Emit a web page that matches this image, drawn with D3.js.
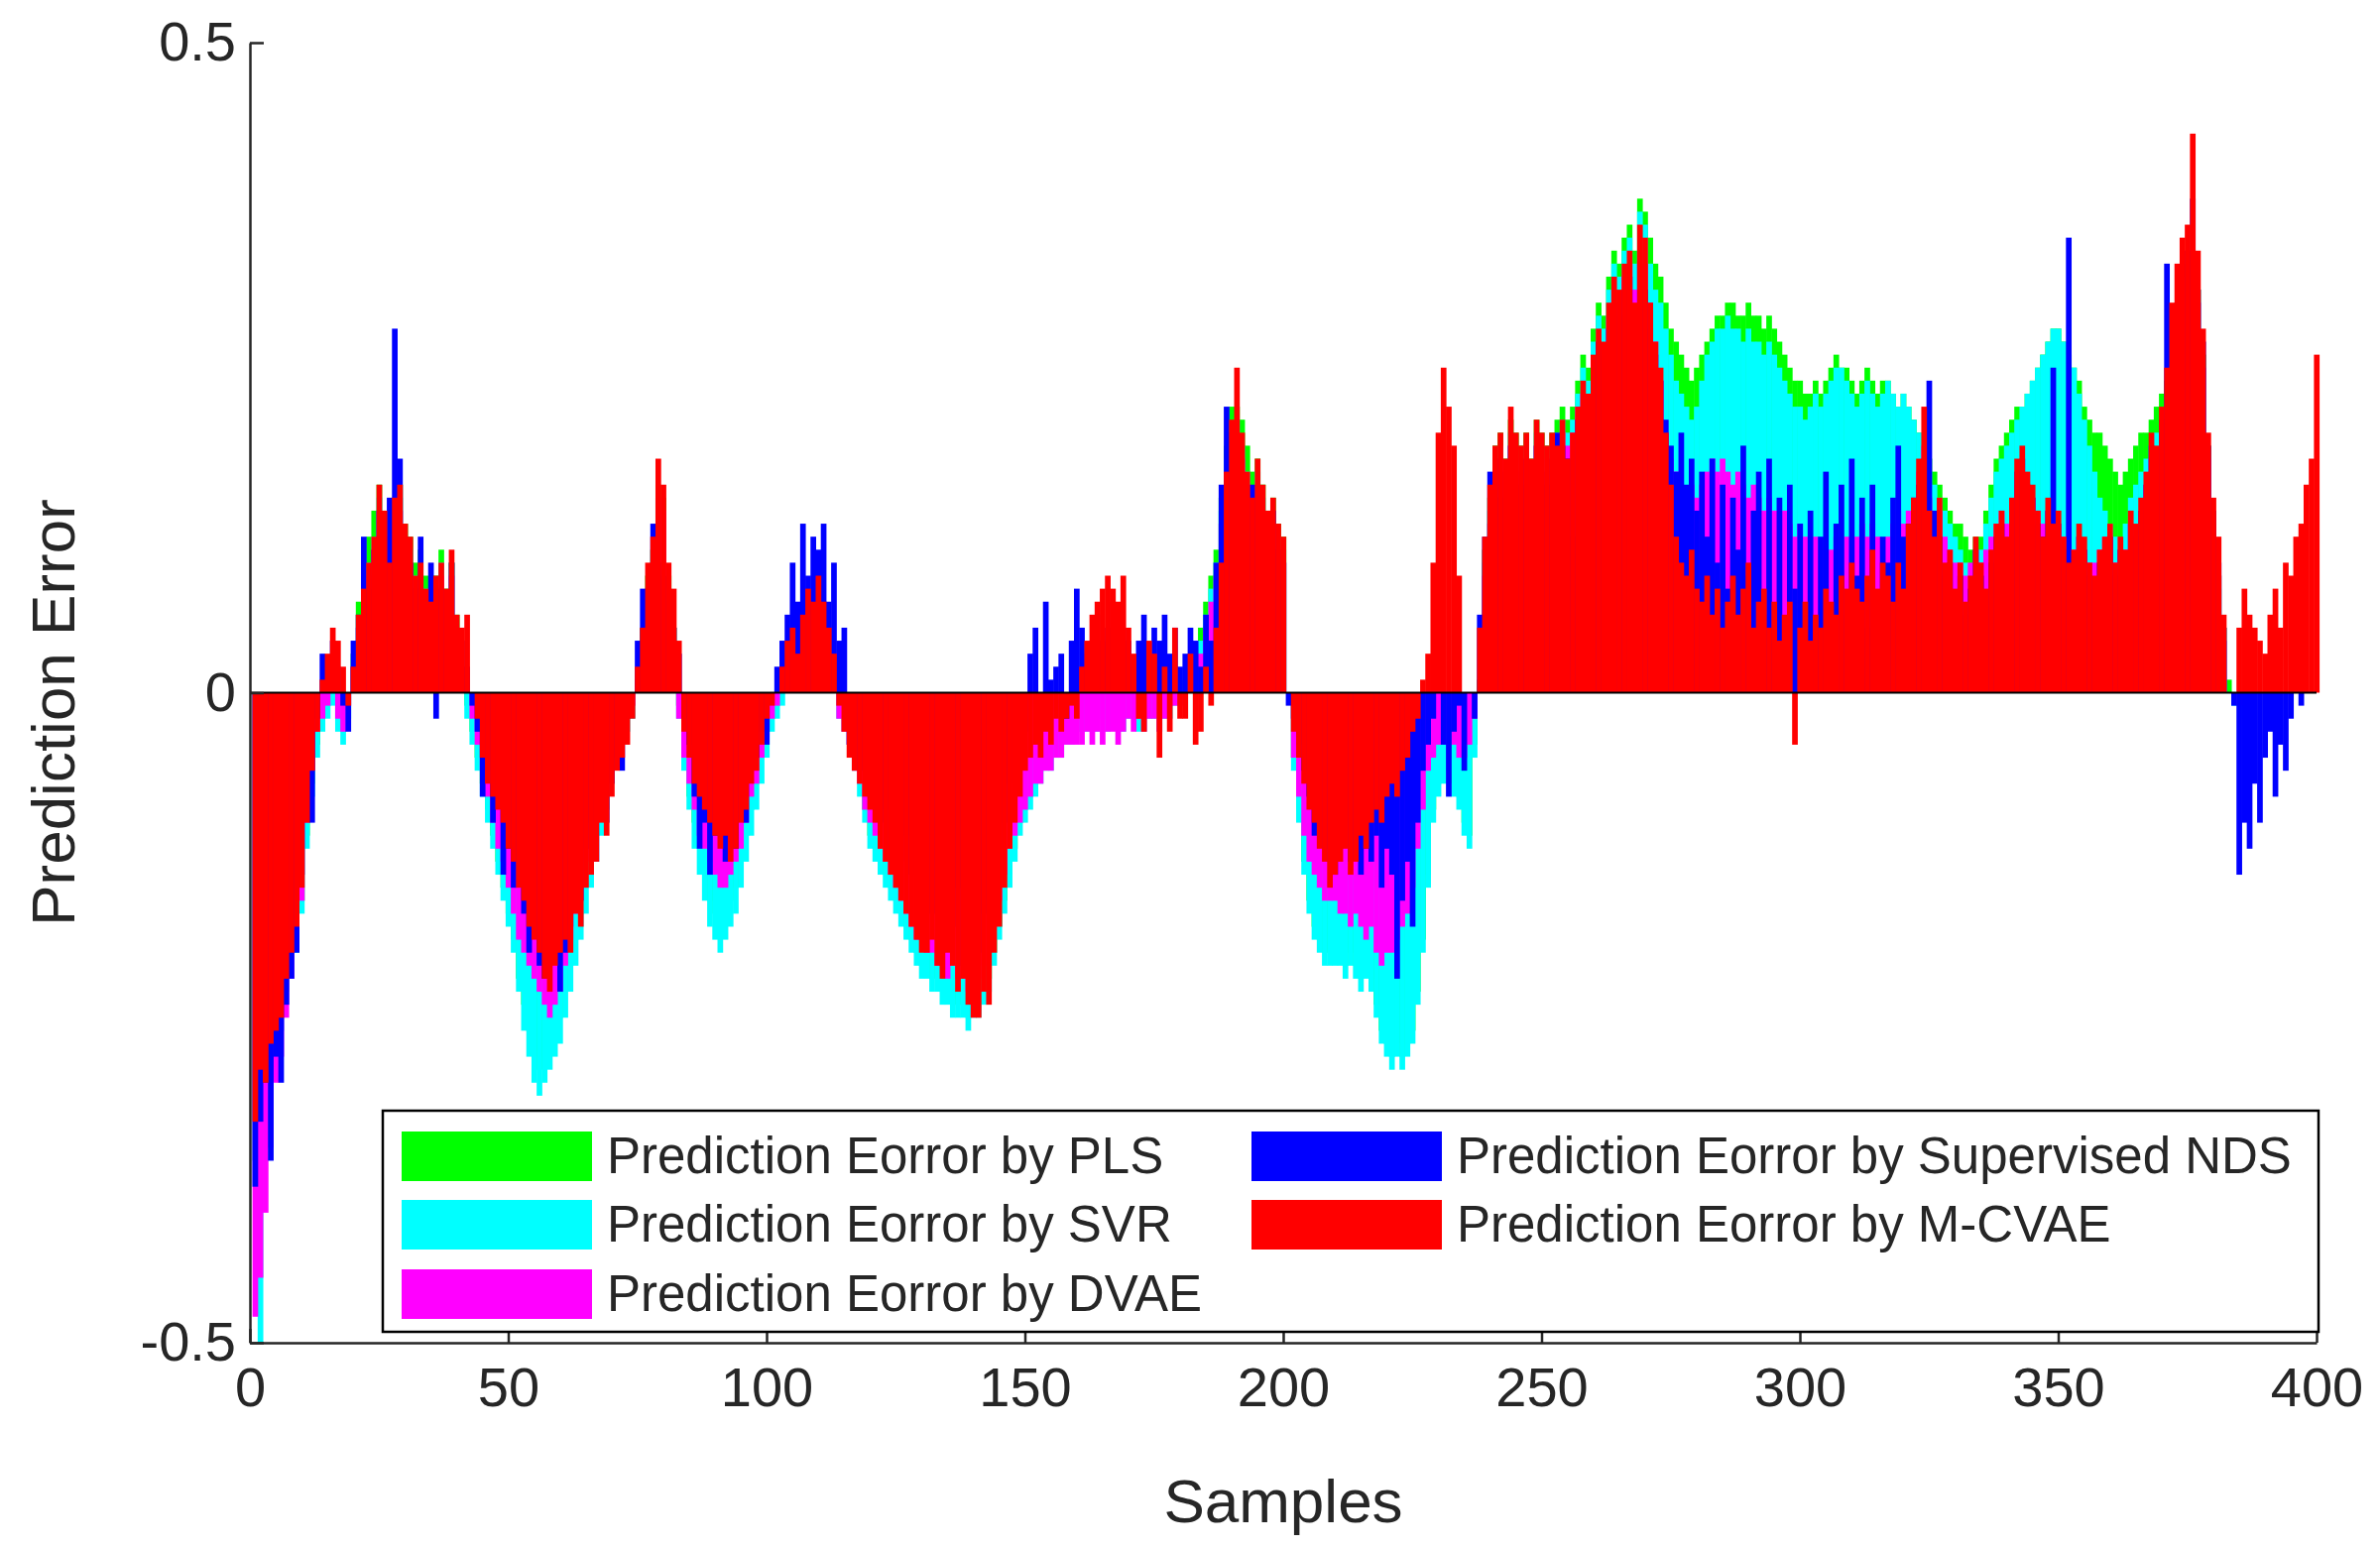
<!DOCTYPE html>
<html><head><meta charset="utf-8">
<script src="https://cdn.jsdelivr.net/npm/d3@7"></script>
<style>body{margin:0;background:#fff}text{font-family:"Liberation Sans",Arial,sans-serif;fill:#262626}</style>
</head><body>
<svg id="c" width="2400" height="1562"></svg>
<script>
const seriesNames=["Prediction Eorror by PLS","Prediction Eorror by SVR","Prediction Eorror by DVAE","Prediction Eorror by Supervised NDS","Prediction Eorror by M-CVAE"];
const seriesColors=["#00ff00","#00ffff","#ff00ff","#0000ff","#ff0000"];
const xTicks=[0,50,100,150,200,250,300,350,400];
const yTicks=[-0.5,0,0.5];
const yTickLabels=["-0.5","0","0.5"];
const pls=[-0.36,-0.34,-0.32,-0.29,-0.27,-0.25,-0.23,-0.21,-0.19,-0.16,-0.11,-0.07,-0.04,-0.02,-0.01,0.0,-0.02,-0.03,0.0,0.03,
0.07,0.09,0.12,0.14,0.16,0.14,0.12,0.15,0.16,0.13,0.12,0.1,0.11,0.09,0.08,0.09,0.11,0.08,0.1,0.06,
0.0,-0.01,-0.03,-0.05,-0.07,-0.09,-0.11,-0.13,-0.15,-0.17,-0.19,-0.22,-0.24,-0.26,-0.28,-0.29,-0.28,-0.27,-0.26,-0.25,
-0.23,-0.21,-0.19,-0.17,-0.15,-0.13,-0.11,-0.09,-0.07,-0.05,-0.04,-0.03,-0.02,-0.01,0.01,0.05,0.09,0.11,0.16,0.15,
0.09,0.05,-0.01,-0.05,-0.08,-0.1,-0.12,-0.14,-0.16,-0.17,-0.18,-0.17,-0.16,-0.15,-0.13,-0.11,-0.09,-0.07,-0.05,-0.03,
-0.02,-0.01,0.0,0.03,0.05,0.03,0.06,0.08,0.07,0.09,0.07,0.04,0.01,-0.01,-0.02,-0.03,-0.05,-0.07,-0.09,-0.11,
-0.12,-0.13,-0.14,-0.15,-0.16,-0.17,-0.18,-0.19,-0.2,-0.21,-0.21,-0.22,-0.22,-0.23,-0.23,-0.24,-0.24,-0.24,-0.25,-0.24,
-0.24,-0.23,-0.22,-0.2,-0.18,-0.16,-0.14,-0.12,-0.1,-0.09,-0.08,-0.07,-0.06,-0.05,-0.05,-0.04,-0.04,-0.03,-0.03,-0.02,
-0.02,-0.02,-0.01,-0.02,-0.01,-0.02,-0.01,-0.01,-0.02,-0.01,-0.01,-0.02,-0.02,-0.01,-0.01,-0.02,-0.01,-0.01,0.0,0.0,
0.01,0.01,0.03,0.05,0.07,0.09,0.11,0.15,0.19,0.22,0.22,0.21,0.19,0.17,0.18,0.16,0.14,0.15,0.13,0.12,
0.0,-0.05,-0.09,-0.13,-0.16,-0.18,-0.19,-0.2,-0.2,-0.2,-0.2,-0.21,-0.2,-0.21,-0.22,-0.21,-0.22,-0.24,-0.26,-0.27,
-0.28,-0.27,-0.28,-0.27,-0.26,-0.23,-0.19,-0.14,-0.09,-0.07,-0.06,-0.05,-0.07,-0.08,-0.1,-0.11,-0.04,0.01,0.11,0.15,
0.19,0.2,0.18,0.21,0.2,0.19,0.2,0.18,0.21,0.2,0.19,0.2,0.21,0.22,0.21,0.22,0.24,0.26,0.25,0.28,
0.3,0.29,0.32,0.34,0.33,0.35,0.36,0.34,0.38,0.37,0.35,0.33,0.32,0.3,0.28,0.27,0.26,0.25,0.24,0.25,
0.26,0.27,0.28,0.29,0.29,0.3,0.3,0.29,0.29,0.3,0.29,0.29,0.28,0.29,0.28,0.27,0.26,0.25,0.24,0.24,
0.23,0.23,0.24,0.23,0.24,0.25,0.26,0.25,0.25,0.24,0.23,0.24,0.25,0.24,0.23,0.24,0.24,0.23,0.22,0.23,
0.22,0.21,0.2,0.19,0.18,0.17,0.16,0.15,0.14,0.13,0.13,0.12,0.11,0.12,0.12,0.14,0.16,0.18,0.19,0.2,
0.21,0.22,0.22,0.23,0.24,0.25,0.26,0.27,0.28,0.28,0.27,0.26,0.25,0.24,0.22,0.21,0.2,0.2,0.19,0.18,
0.17,0.16,0.17,0.18,0.19,0.2,0.2,0.21,0.22,0.23,0.24,0.26,0.28,0.31,0.33,0.34,0.31,0.26,0.19,0.13,
0.09,0.05,0.01,0,0,0,0,0,0,0,0,0,0,0,0,0,0,0,0,0];
const svr=[-0.38,-0.5,-0.33,-0.3,-0.28,-0.26,-0.24,-0.22,-0.2,-0.17,-0.12,-0.08,-0.05,-0.03,-0.02,-0.01,-0.03,-0.04,-0.02,0.02,
0.05,0.07,0.1,0.12,0.15,0.13,0.1,0.14,0.15,0.12,0.11,0.09,0.1,0.08,0.07,0.08,0.1,0.07,0.1,0.05,
0.02,-0.02,-0.04,-0.06,-0.08,-0.1,-0.12,-0.14,-0.16,-0.18,-0.2,-0.23,-0.26,-0.28,-0.3,-0.31,-0.3,-0.29,-0.28,-0.27,
-0.25,-0.23,-0.21,-0.19,-0.17,-0.15,-0.13,-0.11,-0.09,-0.07,-0.05,-0.04,-0.03,-0.02,0.0,0.04,0.08,0.1,0.15,0.14,
0.08,0.04,-0.02,-0.06,-0.09,-0.12,-0.14,-0.16,-0.18,-0.19,-0.2,-0.19,-0.18,-0.17,-0.15,-0.13,-0.11,-0.09,-0.07,-0.05,
-0.03,-0.02,-0.01,0.02,0.04,0.02,0.05,0.07,0.06,0.08,0.06,0.03,0.0,-0.02,-0.03,-0.04,-0.06,-0.08,-0.1,-0.12,
-0.13,-0.14,-0.15,-0.16,-0.17,-0.18,-0.19,-0.2,-0.21,-0.22,-0.22,-0.23,-0.23,-0.24,-0.24,-0.25,-0.25,-0.25,-0.26,-0.25,
-0.25,-0.24,-0.23,-0.21,-0.19,-0.17,-0.15,-0.13,-0.11,-0.1,-0.09,-0.08,-0.07,-0.06,-0.06,-0.05,-0.05,-0.04,-0.04,-0.03,
-0.03,-0.03,-0.02,-0.03,-0.02,-0.03,-0.02,-0.02,-0.03,-0.02,-0.02,-0.03,-0.03,-0.02,-0.02,-0.03,-0.02,-0.02,-0.01,-0.01,
0.0,0.0,0.02,0.04,0.06,0.08,0.1,0.14,0.18,0.2,0.21,0.19,0.17,0.15,0.17,0.15,0.13,0.14,0.12,0.11,
0.0,-0.06,-0.1,-0.14,-0.17,-0.19,-0.2,-0.21,-0.21,-0.21,-0.21,-0.22,-0.21,-0.22,-0.23,-0.22,-0.23,-0.25,-0.27,-0.28,
-0.29,-0.28,-0.29,-0.28,-0.27,-0.24,-0.2,-0.15,-0.1,-0.08,-0.07,-0.06,-0.08,-0.09,-0.11,-0.12,-0.05,0.0,0.1,0.14,
0.18,0.19,0.17,0.2,0.19,0.18,0.19,0.17,0.2,0.19,0.18,0.19,0.2,0.21,0.2,0.21,0.23,0.25,0.24,0.27,
0.29,0.28,0.31,0.33,0.32,0.34,0.35,0.33,0.37,0.36,0.33,0.31,0.3,0.28,0.26,0.24,0.23,0.22,0.21,0.22,
0.24,0.26,0.27,0.28,0.28,0.29,0.28,0.28,0.27,0.28,0.27,0.27,0.26,0.27,0.26,0.25,0.24,0.23,0.22,0.22,
0.21,0.22,0.23,0.22,0.23,0.24,0.25,0.25,0.24,0.23,0.22,0.23,0.24,0.23,0.22,0.23,0.24,0.23,0.22,0.23,
0.22,0.21,0.2,0.19,0.17,0.16,0.15,0.14,0.13,0.12,0.11,0.1,0.09,0.1,0.11,0.13,0.15,0.17,0.18,0.19,
0.2,0.21,0.22,0.23,0.24,0.25,0.26,0.27,0.28,0.28,0.27,0.26,0.25,0.23,0.21,0.19,0.17,0.15,0.14,0.13,
0.12,0.11,0.13,0.15,0.16,0.17,0.18,0.19,0.2,0.21,0.22,0.25,0.27,0.3,0.32,0.33,0.3,0.25,0.18,0.12,
0.08,0.04,0.0,-0.01,-0.01,-0.02,-0.01,0,0,0,0,0,0,0,0,0,0,0,0,0];
const dvae=[-0.48,-0.45,-0.4,-0.35,-0.3,-0.28,-0.25,-0.22,-0.19,-0.16,-0.1,-0.06,-0.03,-0.02,-0.01,0.0,-0.02,-0.03,-0.01,0.02,
0.05,0.07,0.09,0.11,0.14,0.12,0.09,0.13,0.14,0.11,0.1,0.08,0.09,0.07,0.06,0.07,0.09,0.06,0.09,0.05,
0.02,0.0,-0.02,-0.04,-0.06,-0.08,-0.1,-0.12,-0.13,-0.15,-0.17,-0.19,-0.2,-0.21,-0.22,-0.23,-0.24,-0.25,-0.24,-0.23,
-0.21,-0.19,-0.17,-0.15,-0.13,-0.12,-0.1,-0.09,-0.07,-0.05,-0.04,-0.03,-0.02,-0.01,0.01,0.04,0.08,0.1,0.15,0.14,
0.08,0.04,-0.02,-0.05,-0.07,-0.09,-0.11,-0.12,-0.13,-0.14,-0.15,-0.15,-0.14,-0.13,-0.12,-0.1,-0.08,-0.07,-0.05,-0.03,
-0.02,-0.01,0.0,0.02,0.04,0.02,0.05,0.07,0.06,0.08,0.06,0.03,0.0,-0.02,-0.03,-0.04,-0.06,-0.07,-0.09,-0.1,
-0.11,-0.12,-0.13,-0.14,-0.15,-0.16,-0.17,-0.18,-0.19,-0.19,-0.2,-0.2,-0.21,-0.21,-0.22,-0.21,-0.22,-0.22,-0.23,-0.22,
-0.22,-0.21,-0.2,-0.18,-0.16,-0.14,-0.12,-0.11,-0.1,-0.09,-0.08,-0.07,-0.07,-0.06,-0.06,-0.05,-0.05,-0.04,-0.04,-0.04,
-0.04,-0.03,-0.04,-0.03,-0.04,-0.03,-0.03,-0.04,-0.03,-0.02,-0.03,-0.02,-0.03,-0.02,-0.02,-0.03,-0.02,-0.01,-0.01,-0.01,
0.0,0.0,0.01,0.03,0.05,0.07,0.09,0.13,0.16,0.19,0.2,0.18,0.16,0.14,0.16,0.14,0.12,0.13,0.11,0.1,
0.0,-0.05,-0.08,-0.11,-0.13,-0.14,-0.15,-0.16,-0.16,-0.16,-0.17,-0.17,-0.18,-0.17,-0.18,-0.19,-0.18,-0.2,-0.21,-0.2,
-0.2,-0.19,-0.18,-0.17,-0.15,-0.12,-0.09,-0.06,-0.05,-0.04,-0.04,-0.03,-0.04,-0.05,-0.05,-0.04,-0.02,0.0,0.09,0.13,
0.17,0.18,0.16,0.19,0.18,0.17,0.18,0.16,0.19,0.18,0.17,0.18,0.19,0.2,0.19,0.2,0.22,0.23,0.22,0.25,
0.27,0.26,0.29,0.31,0.3,0.32,0.33,0.31,0.34,0.33,0.3,0.27,0.24,0.2,0.18,0.17,0.16,0.15,0.16,0.15,
0.16,0.17,0.18,0.17,0.18,0.17,0.16,0.17,0.16,0.15,0.16,0.15,0.14,0.15,0.14,0.13,0.14,0.13,0.12,0.13,
0.12,0.11,0.12,0.11,0.1,0.11,0.12,0.11,0.12,0.11,0.12,0.13,0.12,0.13,0.12,0.11,0.12,0.13,0.14,0.13,
0.14,0.15,0.17,0.19,0.15,0.13,0.14,0.12,0.11,0.1,0.1,0.09,0.1,0.11,0.1,0.11,0.12,0.13,0.14,0.13,
0.14,0.16,0.17,0.16,0.15,0.14,0.13,0.14,0.13,0.13,0.12,0.11,0.11,0.12,0.11,0.1,0.1,0.11,0.12,0.12,
0.1,0.11,0.11,0.13,0.12,0.14,0.16,0.18,0.18,0.2,0.22,0.26,0.29,0.31,0.32,0.34,0.3,0.25,0.18,0.13,
0.09,0.04,0.0,0,-0.01,-0.01,0,0,0,0,0,0,0,0,0,0,0,0,0,0];
const nds=[-0.38,-0.33,-0.3,-0.36,-0.28,-0.3,-0.24,-0.22,-0.2,-0.14,-0.08,-0.1,-0.02,0.03,0.01,0.04,0.02,-0.01,-0.03,0.04,
0.06,0.12,0.08,0.11,0.14,0.12,0.15,0.28,0.18,0.12,0.1,0.08,0.12,0.07,0.1,-0.02,0.08,0.03,0.1,0.05,
0.04,0.02,-0.01,-0.03,-0.08,-0.06,-0.1,-0.07,-0.14,-0.12,-0.15,-0.13,-0.17,-0.2,-0.16,-0.21,-0.22,-0.19,-0.2,-0.23,
-0.2,-0.18,-0.15,-0.16,-0.12,-0.1,-0.13,-0.09,-0.1,-0.07,-0.05,-0.06,-0.02,0.0,0.04,0.08,0.06,0.13,0.1,0.09,
0.07,0.05,0.03,-0.02,-0.04,-0.08,-0.12,-0.1,-0.14,-0.11,-0.1,-0.13,-0.09,-0.12,-0.08,-0.1,-0.06,-0.05,-0.03,-0.04,
0.0,0.02,0.04,0.06,0.1,0.07,0.13,0.09,0.12,0.11,0.13,0.07,0.1,0.04,0.05,-0.04,-0.03,-0.06,-0.05,-0.08,
-0.07,-0.1,-0.09,-0.12,-0.1,-0.13,-0.11,-0.14,-0.12,-0.15,-0.14,-0.17,-0.13,-0.2,-0.16,-0.18,-0.15,-0.21,-0.17,-0.19,
-0.2,-0.17,-0.16,-0.14,-0.12,-0.1,-0.07,-0.06,-0.04,-0.03,0.03,0.05,-0.03,0.07,0.01,0.02,0.03,-0.02,0.04,0.08,
0.05,0.03,0.02,0.06,0.04,0.05,0.07,0.03,0.05,0.04,0.02,0.04,0.06,0.03,0.05,0.04,0.06,0.03,0.05,0.02,
0.03,0.05,0.04,0.02,0.06,0.04,0.1,0.16,0.22,0.2,0.18,0.17,0.14,0.16,0.15,0.13,0.12,0.14,0.11,0.1,
-0.01,-0.02,-0.04,-0.06,-0.08,-0.11,-0.1,-0.12,-0.13,-0.14,-0.12,-0.1,-0.13,-0.11,-0.14,-0.12,-0.13,-0.11,-0.15,-0.12,
-0.14,-0.22,-0.16,-0.13,-0.18,-0.1,-0.06,-0.04,-0.02,0.0,-0.04,-0.08,-0.03,-0.01,-0.06,0.0,-0.02,0.06,0.12,0.17,
0.18,0.15,0.17,0.19,0.17,0.16,0.18,0.14,0.19,0.17,0.16,0.18,0.2,0.19,0.18,0.12,0.21,0.2,0.22,0.25,
0.27,0.26,0.28,0.3,0.29,0.31,0.32,0.29,0.33,0.31,0.28,0.26,0.24,0.21,0.19,0.17,0.2,0.16,0.18,0.14,
0.17,0.12,0.18,0.1,0.16,0.08,0.15,0.11,0.19,0.09,0.14,0.17,0.06,0.18,0.05,0.15,0.04,0.16,0.08,0.13,
0.03,0.14,0.05,0.12,0.17,0.04,0.13,0.16,0.06,0.18,0.09,0.15,0.05,0.16,0.03,0.12,0.1,0.15,0.19,0.12,
0.13,0.15,0.16,0.18,0.24,0.14,0.12,0.09,0.1,0.07,0.09,0.06,0.08,0.11,0.09,0.07,0.1,0.12,0.13,0.11,
0.14,0.17,0.18,0.16,0.15,0.13,0.12,0.14,0.25,0.13,0.11,0.35,0.1,0.12,0.11,0.09,0.08,0.1,0.11,0.12,
0.09,0.11,0.1,0.13,0.12,0.14,0.16,0.19,0.18,0.21,0.33,0.29,0.3,0.32,0.34,0.38,0.31,0.27,0.19,0.14,
0.1,0.05,0.0,-0.01,-0.14,-0.1,-0.12,-0.07,-0.1,-0.05,-0.03,-0.08,-0.04,-0.06,-0.02,0.0,-0.01,0.0,0.0,0.0];
const mcvae=[-0.33,-0.29,-0.3,-0.27,-0.26,-0.25,-0.22,-0.2,-0.18,-0.15,-0.1,-0.06,-0.03,0.01,0.03,0.05,0.04,0.02,-0.01,0.02,
0.06,0.08,0.1,0.12,0.16,0.14,0.1,0.15,0.16,0.13,0.12,0.09,0.1,0.08,0.07,0.09,0.1,0.08,0.11,0.06,
0.05,0.06,0.0,-0.02,-0.05,-0.07,-0.08,-0.09,-0.1,-0.12,-0.13,-0.15,-0.16,-0.18,-0.19,-0.2,-0.22,-0.23,-0.21,-0.2,
-0.19,-0.2,-0.17,-0.18,-0.15,-0.14,-0.13,-0.1,-0.11,-0.08,-0.06,-0.05,-0.04,-0.02,0.02,0.05,0.1,0.12,0.18,0.16,
0.1,0.08,0.04,-0.03,-0.05,-0.07,-0.08,-0.09,-0.1,-0.11,-0.12,-0.11,-0.13,-0.12,-0.1,-0.09,-0.07,-0.06,-0.04,-0.02,
-0.01,0.0,0.02,0.04,0.05,0.03,0.06,0.08,0.07,0.09,0.07,0.05,0.03,-0.01,-0.03,-0.05,-0.06,-0.07,-0.08,-0.09,
-0.1,-0.12,-0.13,-0.14,-0.15,-0.16,-0.17,-0.18,-0.19,-0.2,-0.2,-0.19,-0.21,-0.22,-0.2,-0.21,-0.23,-0.22,-0.24,-0.25,
-0.25,-0.23,-0.24,-0.2,-0.18,-0.15,-0.12,-0.1,-0.08,-0.06,-0.05,-0.04,-0.05,-0.03,-0.04,-0.02,-0.03,-0.02,-0.01,-0.02,
0.02,0.04,0.06,0.07,0.08,0.09,0.08,0.07,0.09,0.05,0.03,-0.02,-0.03,0.04,0.03,-0.05,0.02,-0.03,0.05,-0.02,
-0.02,0.03,-0.04,-0.03,0.02,-0.01,0.05,0.1,0.17,0.21,0.25,0.2,0.17,0.15,0.18,0.16,0.14,0.15,0.13,0.12,
0.0,-0.03,-0.05,-0.07,-0.09,-0.1,-0.12,-0.13,-0.15,-0.14,-0.13,-0.12,-0.14,-0.13,-0.11,-0.12,-0.1,-0.09,-0.1,-0.08,
-0.07,-0.08,-0.06,-0.05,-0.03,-0.02,0.01,0.03,0.1,0.2,0.25,0.22,0.19,0.09,0.0,0.0,0.0,0.05,0.12,0.16,
0.19,0.2,0.18,0.22,0.2,0.19,0.2,0.18,0.21,0.2,0.19,0.2,0.19,0.21,0.18,0.2,0.22,0.24,0.23,0.26,
0.28,0.27,0.3,0.32,0.31,0.33,0.34,0.3,0.36,0.35,0.3,0.27,0.25,0.2,0.16,0.12,0.1,0.09,0.11,0.08,
0.07,0.09,0.06,0.08,0.05,0.07,0.09,0.06,0.08,0.1,0.05,0.07,0.08,0.05,0.07,0.04,0.06,0.07,-0.04,0.05,
0.07,0.04,0.06,0.05,0.08,0.07,0.06,0.09,0.08,0.1,0.08,0.07,0.09,0.11,0.08,0.1,0.09,0.07,0.1,0.08,
0.13,0.15,0.18,0.22,0.14,0.12,0.15,0.1,0.11,0.08,0.1,0.07,0.09,0.12,0.1,0.08,0.11,0.13,0.14,0.12,
0.15,0.18,0.19,0.17,0.16,0.14,0.12,0.15,0.13,0.14,0.12,0.1,0.11,0.13,0.12,0.1,0.09,0.11,0.12,0.13,
0.1,0.12,0.11,0.14,0.13,0.15,0.17,0.2,0.19,0.22,0.25,0.3,0.33,0.35,0.36,0.43,0.34,0.28,0.2,0.15,
0.12,0.06,0.0,0.0,0.05,0.08,0.06,0.05,0.04,0.03,0.06,0.08,0.05,0.1,0.09,0.12,0.13,0.16,0.18,0.26];
const allSeries=[pls,svr,dvae,nds,mcvae];

const svg=d3.select("#c");
const L=252,R=2336,T=43,B=1354;
const x=d3.scaleLinear().domain([0,400]).range([L,R]);
const y=d3.scaleLinear().domain([-0.5,0.5]).range([B,T]);
const bw=x(1)-x(0);
allSeries.forEach((s,k)=>{
  svg.append("g").selectAll("rect").data(s).join("rect")
    .attr("x",(d,i)=>x(i+1)-bw/2).attr("width",bw+0.5)
    .attr("y",d=>y(Math.max(0,d))).attr("height",d=>Math.abs(y(d)-y(0)))
    .attr("fill",seriesColors[k]);
});
svg.append("line").attr("x1",L).attr("x2",R).attr("y1",y(0)).attr("y2",y(0)).attr("stroke","#000").attr("stroke-width",2);
const xa=svg.append("g").attr("transform",`translate(0,${B})`).call(d3.axisBottom(x).tickValues(xTicks).tickSizeInner(-14).tickSizeOuter(0).tickPadding(24));
const ya=svg.append("g").attr("transform",`translate(${L},0)`).call(d3.axisLeft(y).tickValues(yTicks).tickFormat((d,i)=>yTickLabels[i]).tickSizeInner(-14).tickSizeOuter(0).tickPadding(14));
[xa,ya].forEach(a=>{a.selectAll("path,line").attr("stroke","#262626").attr("stroke-width",2.5);a.selectAll("text").attr("font-size",56).attr("font-family","Liberation Sans, Arial").attr("fill","#262626");});
svg.append("text").attr("x",(L+R)/2).attr("y",1535).attr("text-anchor","middle").attr("font-size",62).text("Samples");
svg.append("text").attr("transform",`translate(75,${(T+B)/2+20}) rotate(-90)`).attr("text-anchor","middle").attr("font-size",62).text("Prediction Error");
const lg=svg.append("g");
lg.append("rect").attr("x",386).attr("y",1120).attr("width",1952).attr("height",223).attr("fill","#fff").attr("stroke","#000").attr("stroke-width",2.5);
const pos=[[405,1166],[405,1235],[405,1305],[1262,1166],[1262,1235]];
seriesNames.forEach((n,k)=>{
  const [px,py]=pos[k];
  lg.append("rect").attr("x",px).attr("y",py-25).attr("width",192).attr("height",50).attr("fill",seriesColors[k]);
  lg.append("text").attr("x",px+207).attr("y",py+17).attr("font-size",51).attr("fill","#000").text(n);
});
</script></body></html>
